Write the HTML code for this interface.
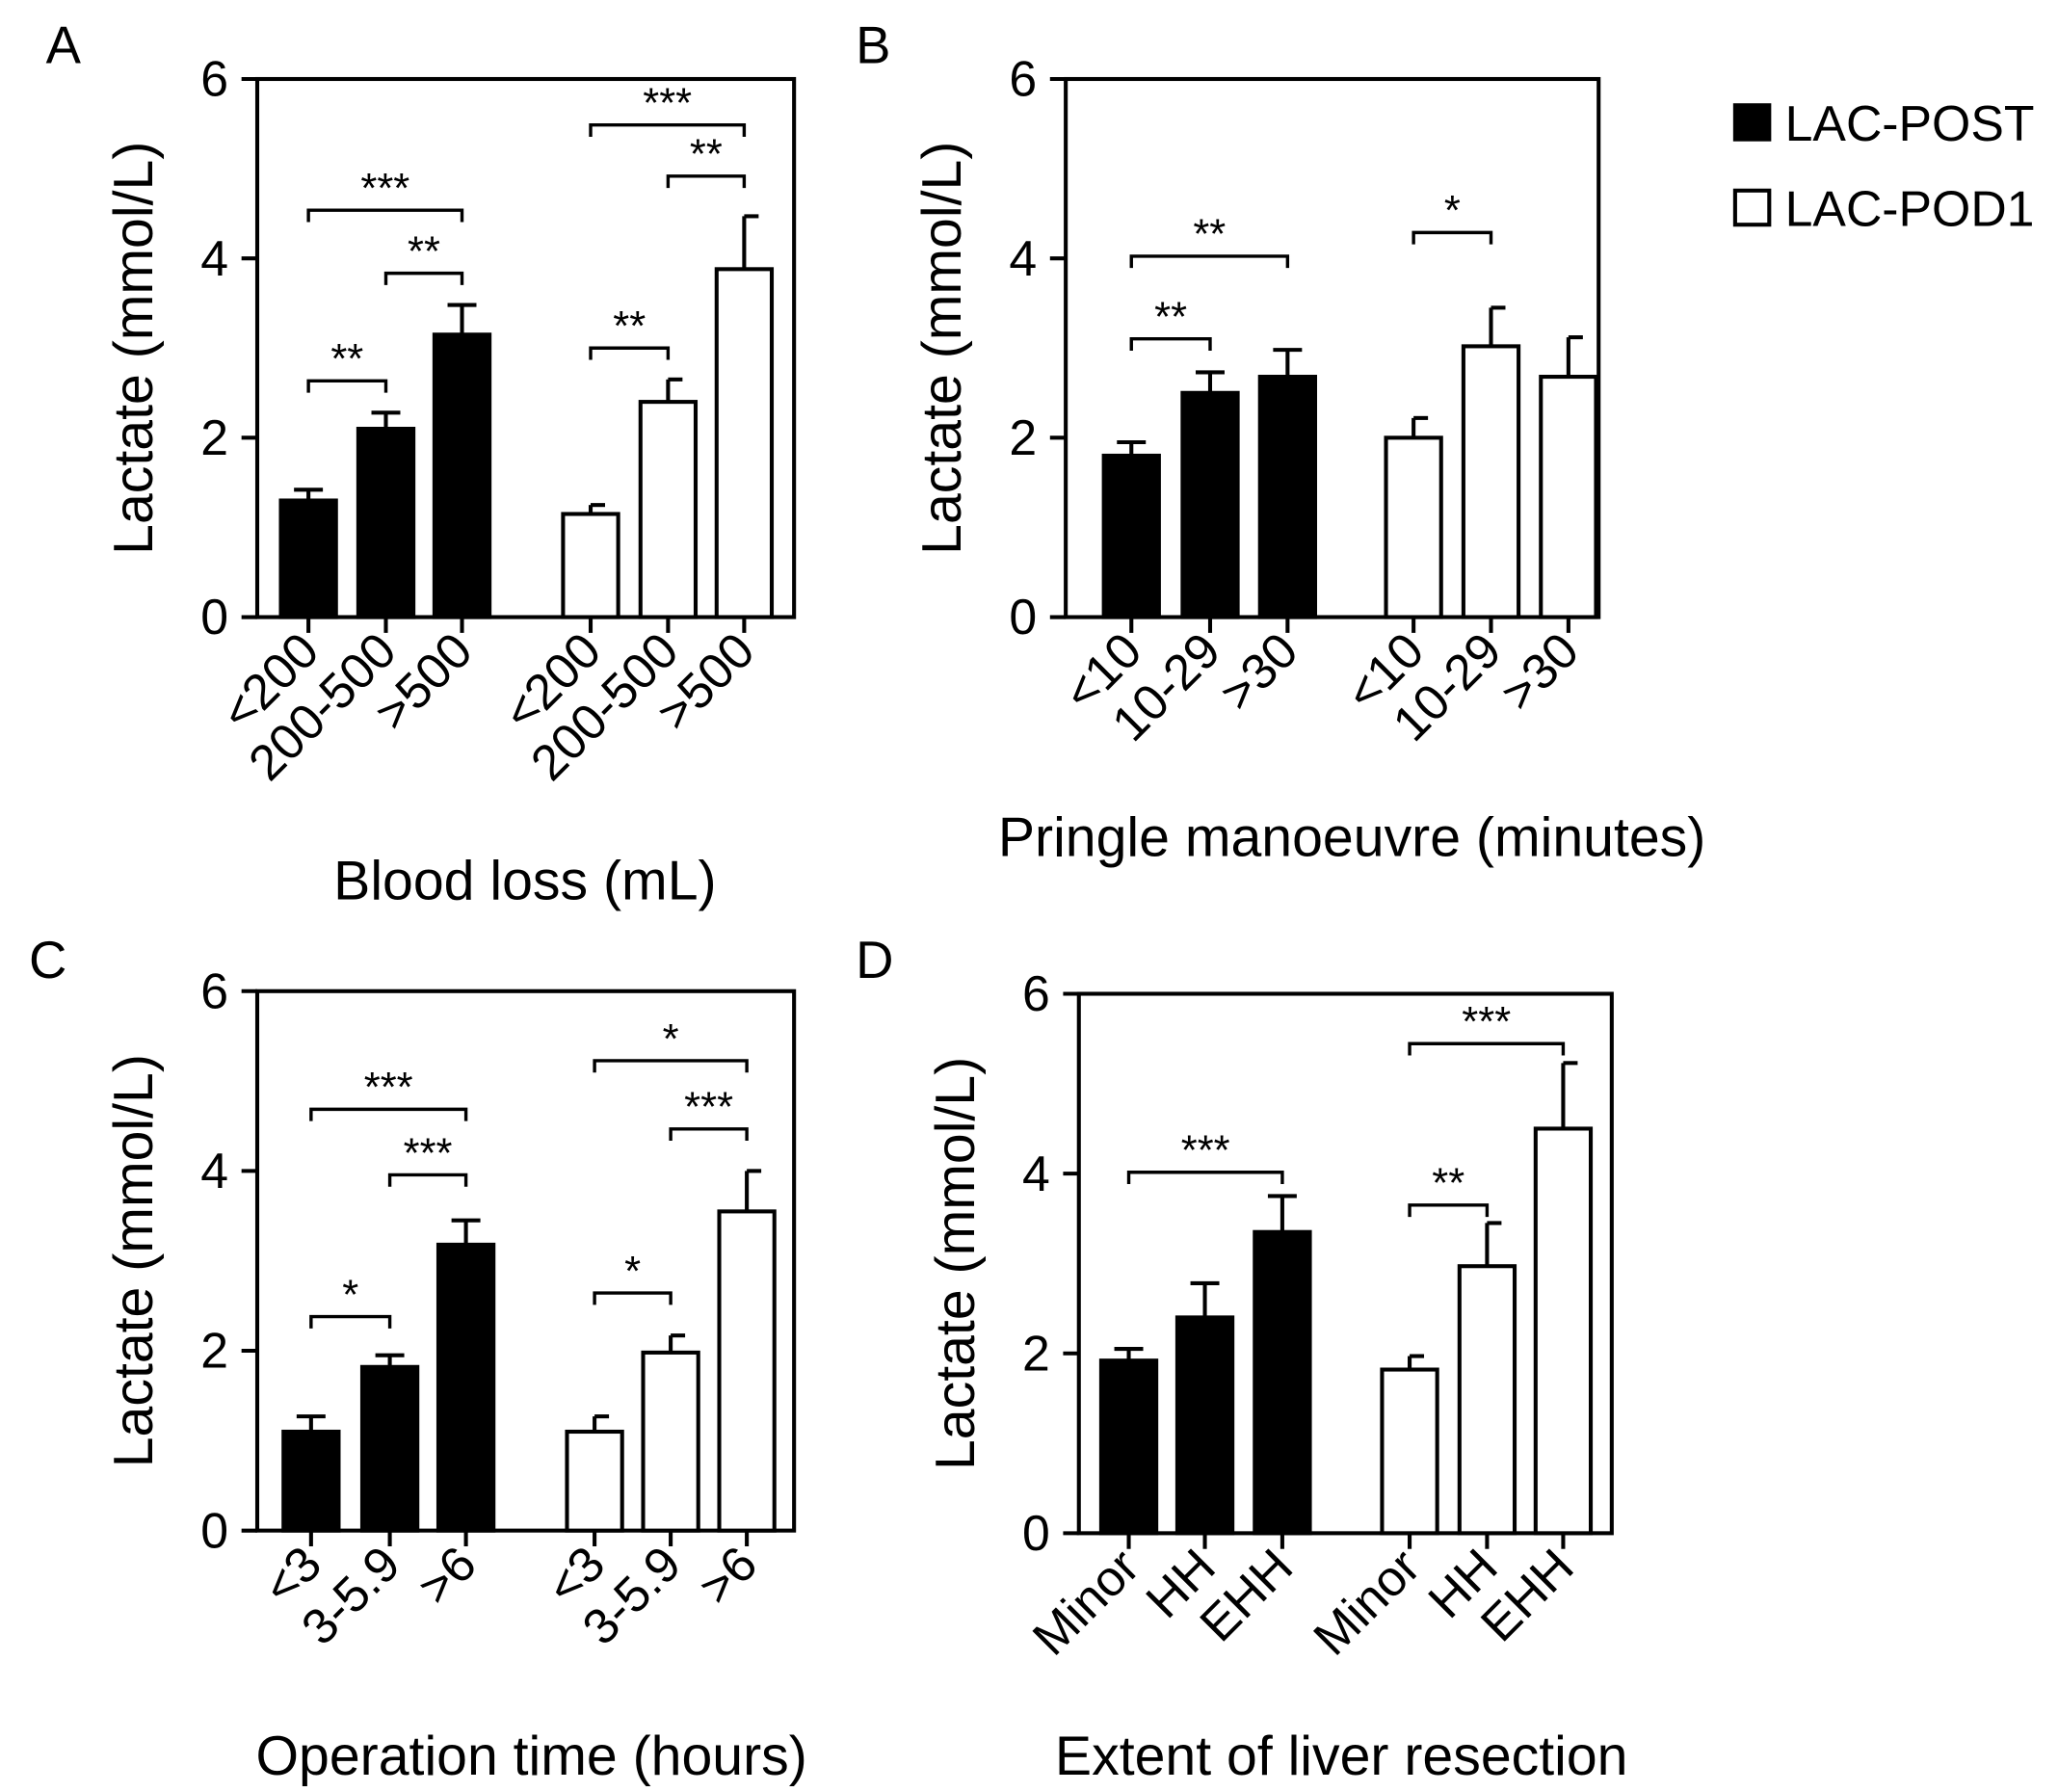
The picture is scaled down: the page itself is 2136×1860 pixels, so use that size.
<!DOCTYPE html>
<html><head><meta charset="utf-8"><style>
html,body{margin:0;padding:0;background:#fff;}
svg{display:block;font-family:"Liberation Sans",Arial,sans-serif;}
</style></head><body>
<svg id="s" width="2136" height="1860" viewBox="0 0 1568 1365" xmlns="http://www.w3.org/2000/svg"></svg>
<script>
var s=document.getElementById('s'),h='';
function P(o){
 var L=o.l,T=o.t,R=o.r,B=o.b,k=(B-T)/6;
 function Y(v){return B-v*k;}
 h+='<rect x="'+L+'" y="'+T+'" width="'+(R-L)+'" height="'+(B-T)+'" fill="none" stroke="#000" stroke-width="3"/>';
 [0,2,4,6].forEach(function(v){var y=Y(v);h+='<line x1="'+(L-12)+'" y1="'+y+'" x2="'+L+'" y2="'+y+'" stroke="#000" stroke-width="3"/><text x="'+(L-22)+'" y="'+(y+13)+'" font-size="38" text-anchor="end">'+v+'</text>';});
 h+='<text transform="translate('+(L-80)+','+((T+B)/2)+') rotate(-90)" font-size="42" text-anchor="middle">Lactate (mmol/L)</text>';
 o.bars.forEach(function(b,i){var c=b[0],w=42,fill=i<3?'#000':'#fff';
  h+='<line x1="'+c+'" y1="'+Y(b[1])+'" x2="'+c+'" y2="'+Y(b[2])+'" stroke="#000" stroke-width="3"/><line x1="'+(i<3?c-11:c)+'" y1="'+Y(b[2])+'" x2="'+(c+11)+'" y2="'+Y(b[2])+'" stroke="#000" stroke-width="3"/>';
  h+='<rect x="'+(c-w/2)+'" y="'+Y(b[1])+'" width="'+w+'" height="'+(b[1]*k)+'" fill="'+fill+'" stroke="#000" stroke-width="3"/>';
  h+='<line x1="'+c+'" y1="'+B+'" x2="'+c+'" y2="'+(B+12)+'" stroke="#000" stroke-width="3"/>';
  var lab=o.labs[i%3];
  h+='<text transform="translate('+(c+10)+','+(B+28)+') rotate(-45)" font-size="38" text-anchor="end">'+lab+'</text>';
 });
 o.br.forEach(function(q){h+='<path d="M'+q[0]+' '+(q[2]+9)+'V'+q[2]+'H'+q[1]+'V'+(q[2]+9)+'" fill="none" stroke="#000" stroke-width="2.5"/><text x="'+((q[0]+q[1])/2)+'" y="'+(q[2]-6)+'" font-size="32" text-anchor="middle">'+q[3]+'</text>';});
 h+='<text x="'+o.xl[0]+'" y="'+o.xl[1]+'" font-size="42" text-anchor="middle">'+o.xl[2]+'</text>';
 h+='<text x="'+o.le[0]+'" y="'+o.le[1]+'" font-size="40">'+o.le[2]+'</text>';
}
P({l:196,t:60,r:605,b:470,labs:['&lt;200','200-500','&gt;500'],
 bars:[[235,1.3,1.42],[294,2.1,2.28],[352,3.15,3.48],[450,1.15,1.25],[509,2.4,2.65],[567,3.88,4.47]],
 br:[[235,294,290,'**'],[235,352,160,'***'],[294,352,208,'**'],[450,509,265,'**'],[450,567,95,'***'],[509,567,134,'**']],
 xl:[400,685,'Blood loss (mL)'],le:[35,48,'A']});
P({l:812,t:60,r:1218,b:470,labs:['&lt;10','10-29','&gt;30'],
 bars:[[862,1.8,1.95],[922,2.5,2.73],[981,2.68,2.98],[1077,2.0,2.22],[1136,3.02,3.45],[1195,2.68,3.12]],
 br:[[862,922,258,'**'],[862,981,195,'**'],[1077,1136,177,'*']],
 xl:[1030,652,'Pringle manoeuvre (minutes)'],le:[652,48,'B']});
P({l:196,t:755,r:605,b:1166,labs:['&lt;3','3-5.9','&gt;6'],
 bars:[[237,1.1,1.27],[297,1.82,1.95],[355,3.18,3.45],[453,1.1,1.27],[511,1.98,2.17],[569,3.55,4.0]],
 br:[[237,297,1003,'*'],[237,355,845,'***'],[297,355,895,'***'],[453,511,985,'*'],[453,569,808,'*'],[511,569,860,'***']],
 xl:[405,1352,'Operation time (hours)'],le:[22,745,'C']});
P({l:822,t:757,r:1228,b:1168,labs:['Minor','HH','EHH'],
 bars:[[860,1.92,2.05],[918,2.4,2.78],[977,3.35,3.75],[1074,1.82,1.97],[1133,2.97,3.45],[1191,4.5,5.23]],
 br:[[860,977,893,'***'],[1074,1133,918,'**'],[1074,1191,795,'***']],
 xl:[1022,1352,'Extent of liver resection'],le:[652,745,'D']});
h+='<rect x="1322" y="80" width="26" height="26" fill="#000" stroke="#000" stroke-width="3"/><text x="1360" y="107" font-size="38">LAC-POST</text>';
h+='<rect x="1322" y="145" width="26" height="26" fill="#fff" stroke="#000" stroke-width="3"/><text x="1360" y="172" font-size="38">LAC-POD1</text>';
s.innerHTML=h;
</script>
</body></html>
